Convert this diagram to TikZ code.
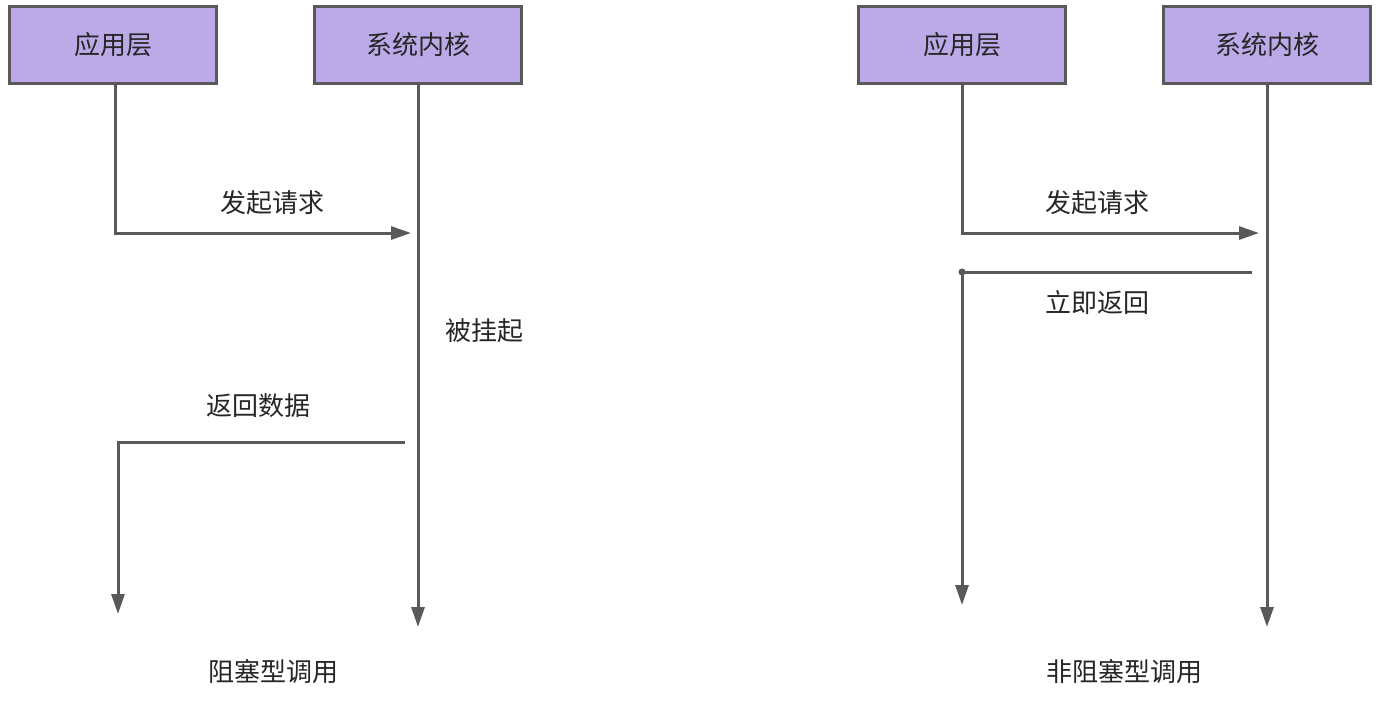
\documentclass[tikz,border=0pt]{standalone}
\usepackage{fontspec}
\setmainfont{Noto Sans CJK SC}
\usetikzlibrary{arrows.meta}
\definecolor{boxfill}{HTML}{BBA9E8}
\definecolor{ln}{HTML}{595959}
\begin{document}
\begin{tikzpicture}[x=1pt,y=-1pt,
  box/.style={draw=ln,line width=3pt,fill=boxfill,minimum width=207pt,minimum height=77pt,inner sep=0pt,font=\fontsize{26}{30}\selectfont,text=black!85},
  lbl/.style={font=\fontsize{26}{30}\selectfont,text=black!85,inner sep=0pt},
  conn/.style={draw=ln,line width=3pt,-{Triangle[length=20pt,width=13pt]}}]
\useasboundingbox (0,0) rectangle (1386,710);
% left
\node[box] (a1) at (113,45) {应用层};
\node[box] (k1) at (418,45) {系统内核};
\coordinate (a1c) at (115,233);
\coordinate (a1e) at (411,233);
\coordinate (k1e) at (418,627);
\coordinate (r1s) at (405,442);
\coordinate (r1c) at (118,442);
\coordinate (r1e) at (118,614);
\draw[conn] (a1.south -| a1c) -- (a1c) -- (a1e);
\draw[conn] (k1.south) -- (k1e);
\draw[conn] (r1s) -- (r1c) -- (r1e);
\node[lbl] (t1) at (272,203) {发起请求};
\node[lbl] (t2) at (484,331) {被挂起};
\node[lbl] (t3) at (258,406) {返回数据};
\node[lbl] (t4) at (273,672) {阻塞型调用};
% right
\node[box] (a2) at (962,45) {应用层};
\node[box] (k2) at (1267,45) {系统内核};
\coordinate (a2c) at (962,233);
\coordinate (a2e) at (1259,233);
\coordinate (k2e) at (1267,627);
\coordinate (r2s) at (1252,272);
\coordinate (r2c) at (962,272);
\coordinate (r2e) at (962,605);
\draw[conn] (a2.south) -- (a2c) -- (a2e);
\draw[conn] (k2.south) -- (k2e);
\draw[conn] (r2s) -- (r2c) -- (r2e);
\fill[ln] (r2c) circle (3.5pt);
\node[lbl] (u1) at (1097,203) {发起请求};
\node[lbl] (u2) at (1097,303) {立即返回};
\node[lbl] (u3) at (1124,672) {非阻塞型调用};
\end{tikzpicture}
\end{document}
